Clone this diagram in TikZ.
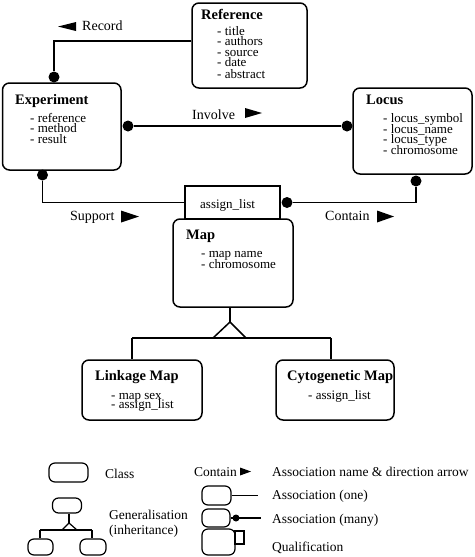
\documentclass[tikz,border=0pt]{standalone}
\usepackage{fontspec}
\setmainfont{Liberation Serif}
\begin{document}
\begin{tikzpicture}[x=1pt,y=-1pt,
  box/.style={draw, line width=1.5pt, rounded corners=7pt, inner sep=0pt},
  lbox/.style={draw, line width=1.2pt, rounded corners=6pt, inner sep=0pt},
  sqbox/.style={draw, line width=1.5pt, inner sep=0pt},
  conn/.style={line width=1.8pt},
  lconn/.style={line width=1.2pt},
  ttl/.style={anchor=base west, inner sep=0pt, font=\fontsize{14.5}{14.5}\selectfont\bfseries},
  itm/.style={anchor=base west, inner sep=0pt, font=\fontsize{13}{13}\selectfont},
  lbl/.style={anchor=base west, inner sep=0pt, font=\fontsize{14}{14}\selectfont},
  leg/.style={anchor=base west, inner sep=0pt, font=\fontsize{13.5}{13.5}\selectfont},
  bigdot/.style={circle, fill=black, inner sep=0pt, minimum size=11pt},
  smalldot/.style={circle, fill=black, inner sep=0pt, minimum size=7pt},
]
\useasboundingbox (0,0) rectangle (474,557);

% ---------- classes ----------
\node[box, minimum width=115pt, minimum height=85pt] (ref) at (249.5,45.5) {};
\node[box, minimum width=118.5pt, minimum height=87pt] (exp) at (61.75,126.5) {};
\node[box, minimum width=119pt, minimum height=86pt] (loc) at (412.5,131) {};
\node[sqbox, minimum width=95pt, minimum height=33pt] (al) at (232.5,202.5) {};
\node[box, minimum width=120pt, minimum height=88pt] (map) at (233,263) {};
\node[box, minimum width=120pt, minimum height=60pt] (link) at (142,390) {};
\node[box, minimum width=118pt, minimum height=60pt] (cyto) at (335,390) {};

% titles
\node[ttl] (refT) at (201,19.5) {Reference};
\node[ttl] (expT) at (15,104.5) {Experiment};
\node[ttl] (locT) at (366,104.5) {Locus};
\node[ttl] (mapT) at (186,239.5) {Map};
\node[ttl] (linkT) at (95,380.5) {Linkage Map};
\node[ttl] (cytoT) at (287,380.5) {Cytogenetic Map};

% attributes
\node[itm] (ref1) at (217,35.5) {- title};
\node[itm] (ref2) at (217,45.5) {- authors};
\node[itm] (ref3) at (217,56.5) {- source};
\node[itm] (ref4) at (217,66.5) {- date};
\node[itm] (ref5) at (217,78) {- abstract};
\node[itm] (exp1) at (30,122.5) {- reference};
\node[itm] (exp2) at (30,132.5) {- method};
\node[itm] (exp3) at (30,143.5) {- result};
\node[itm] (loc1) at (383,122.5) {- locus\_symbol};
\node[itm] (loc2) at (383,133.5) {- locus\_name};
\node[itm] (loc3) at (383,143.5) {- locus\_type};
\node[itm] (loc4) at (383,154.5) {- chromosome};
\node[itm] (alT) at (200,208.5) {assign\_list};
\node[itm] (map1) at (201,257.5) {- map name};
\node[itm] (map2) at (201,268.5) {- chromosome};
\node[itm] (link1) at (111,399.5) {- map sex};
\node[itm] (link2) at (111,408.5) {- assign\_list};
\node[itm] (cyto1) at (308,399.5) {- assign\_list};

% ---------- associations ----------
\node[bigdot] (d1) at (54,77) {};
\draw[conn] ([yshift=4.5pt]ref.west) -| (d1);
\node[bigdot] (d2) at (128,126) {};
\node[bigdot] (d3) at (347,126) {};
\draw[conn] (d2) -- (d3);
\node[bigdot] (d4) at (42.5,175) {};
\draw[conn] (d4) |- (al.west);
\node[bigdot] (d5) at (287,202.5) {};
\node[bigdot] (d6) at (416,181) {};
\draw[conn] (d5) -| (d6);

% association names
\fill (58,26.5) -- (76,22) -- (76,31) -- cycle;
\node[lbl] (recL) at (82,30.5) {Record};
\node[lbl] (invL) at (192,119.5) {Involve};
\fill (262,113) -- (245,108) -- (245,118) -- cycle;
\node[lbl] (supL) at (70,220.5) {Support};
\fill (139,216.5) -- (121,210.5) -- (121,222.5) -- cycle;
\node[lbl] (conL) at (325,220.5) {Contain};
\fill (394,216.5) -- (377,210.5) -- (377,222.5) -- cycle;

% ---------- generalisation ----------
\coordinate (apex) at (230,322);
\coordinate (gl) at (132,338);
\coordinate (gr) at (331,338);
\draw[conn] (map.south -| apex) -- (apex);
\draw[line width=1.5pt, line join=miter] (apex) -- (213,338) -- (246,338) -- cycle;
\draw[conn] (gl) -- (gr);
\draw[conn] (gl) -- (gl |- link.north);
\draw[conn] (gr) -- (gr |- cyto.north);

% ---------- legend ----------
\node[lbox, minimum width=39pt, minimum height=19pt] (lgClass) at (68.5,472.5) {};
\node[leg] (lgClassT) at (105,478.5) {Class};

\node[lbox, minimum width=29pt, minimum height=15pt] (lgTop) at (67,505.5) {};
\node[lbox, minimum width=25pt, minimum height=16pt] (lgL) at (40.5,547) {};
\node[lbox, minimum width=26pt, minimum height=16pt] (lgR) at (93,547) {};
\coordinate (lgApex) at (69,523);
\coordinate (lgHl) at (40,530);
\coordinate (lgHr) at (92,530);
\draw[lconn] (lgTop.south -| lgApex) -- (lgApex);
\draw[lconn] (lgApex) -- (62,530) -- (77,530) -- cycle;
\draw[lconn] (lgHl) -- (lgHr);
\draw[lconn] (lgHl) -- (lgHl |- lgL.north);
\draw[lconn] (lgHr) -- (lgHr |- lgR.north);
\node[leg] (lgGenT) at (109,519.5) {Generalisation};
\node[leg] (lgGenT2) at (109,534.5) {(inheritance)};

\node[leg] (lgCon) at (194,476.5) {Contain};
\fill (251,471.5) -- (240,467.5) -- (240,475.5) -- cycle;
\node[leg] (lgConT) at (272,476.5) {Association name \& direction arrow};

\node[lbox, minimum width=29pt, minimum height=19pt] (lgOne) at (216.5,495.5) {};
\coordinate (lgOneE) at (258,495.5);
\draw[lconn] (lgOne.east) -- (lgOneE);
\node[leg] (lgOneT) at (272,499.5) {Association (one)};

\node[lbox, minimum width=28pt, minimum height=18pt] (lgMany) at (216,518) {};
\node[smalldot] (lgDot) at (236,518) {};
\coordinate (lgManyE) at (261,518);
\draw[lconn] (lgMany.east) -- (lgManyE);
\node[leg] (lgManyT) at (272,523) {Association (many)};

\node[lbox, minimum width=33pt, minimum height=26pt] (lgQ) at (218.5,542) {};
\node[draw, line width=1.2pt, inner sep=0pt, minimum width=9pt, minimum height=13pt] (lgQs) at (239.5,537.5) {};
\node[leg] (lgQT) at (272,551.5) {Qualification};
\end{tikzpicture}
\end{document}
